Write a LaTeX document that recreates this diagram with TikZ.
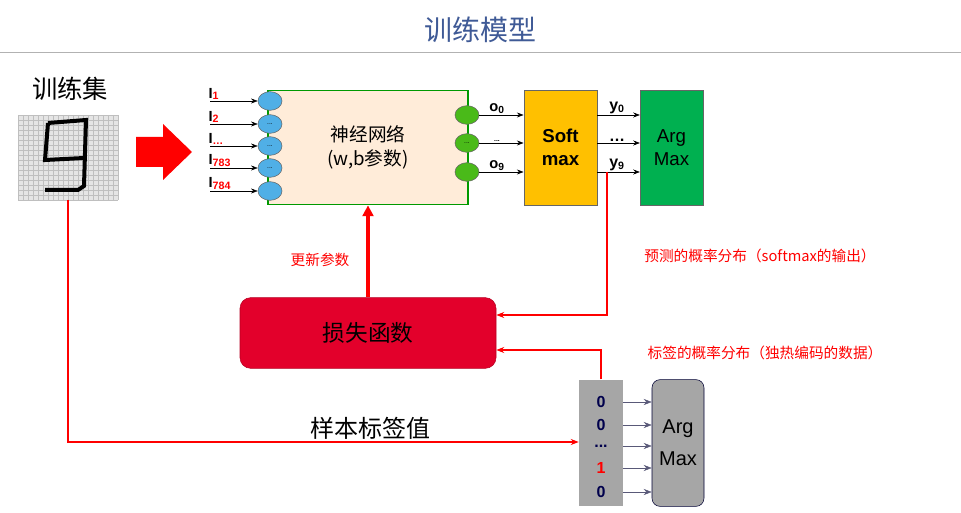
\documentclass[tikz,border=0pt]{standalone}
\usepackage{fontspec}
\setmainfont{Liberation Sans}
\newfontfamily\cjk{Noto Sans CJK SC}
\usetikzlibrary{arrows.meta,shapes.geometric}
\definecolor{sy}{HTML}{FFC000}
\definecolor{ag}{HTML}{00B050}
\definecolor{lr}{HTML}{E3002B}
\definecolor{tb}{HTML}{3F5A96}
\begin{document}
\begin{tikzpicture}[x=0.75pt,y=-0.75pt,
  inc/.style={ellipse,draw=black!60,fill=cyan!80!blue!70,minimum width=18pt,minimum height=14pt,inner sep=0pt,font=\tiny},
  outc/.style={ellipse,draw=black!60,fill=green!60!lime!70!black!90,minimum width=18pt,minimum height=14pt,inner sep=0pt,font=\tiny},
  arr/.style={-{Stealth[length=5pt]},black},
  garr/.style={-{Stealth[length=6pt]},black!60!blue!30!gray},
  rl/.style={red,thick},
  rlab/.style={red,font=\cjk\fontsize{11}{13}\selectfont}]
\useasboundingbox (0,0) rectangle (961,513);
\node[text=tb,font=\cjk\fontsize{21}{24}\selectfont] (title) at (480,30) {训练模型};
\draw[gray!60] (0,52) -- (961,52);
\node[font=\cjk\fontsize{19}{22}\selectfont] (trs) at (70,89) {训练集};
% digit grid
\fill[gray!20] (18,115) rectangle (118,200);
\foreach \i in {0,...,20} {\draw[gray!50,line width=0.4pt] (18+\i*5,115) -- (18+\i*5,200);}
\foreach \j in {0,...,17} {\draw[gray!50,line width=0.4pt] (18,115+\j*5) -- (118,115+\j*5);}
\draw[line width=3pt,line join=miter] (48,123) -- (45,160) -- (84,158);
\draw[line width=3pt] (48,123) -- (86,120) -- (84,186) -- (78,190) -- (45,190);
\coordinate (dig) at (68,200);
% big red arrow
\fill[red] (136,137) -- (163,137) -- (163,124) -- (192,152) -- (163,180) -- (163,167) -- (136,167) -- cycle;
% NN box
\node[draw=green!60!black,thick,fill=orange!15,minimum width=150pt,minimum height=86pt,font=\cjk\fontsize{14}{18}\selectfont,align=center] (nn) at (368,147.5) {神经网络\\(w,b参数)};
\foreach \y/\n/\l [count=\k] in {101/a/1,124/b/2,146/c/\dots,168/d/783,191/e/784} {
  \node[inc] (i\n) at (270,\y) {\ifnum\k>1\ifnum\k<5 ...\fi\fi};
  \coordinate (s\n) at (210,\y);
  \draw[arr] (s\n) -- (i\n);
  \node[anchor=south west,inner sep=1pt,font=\bfseries\fontsize{11}{12}\selectfont] (lab\n) at (207,\y) {I\textcolor{red}{\fontsize{8}{9}\selectfont\raisebox{-1pt}{\l}}};
}
\foreach \y/\n/\l in {115/a/o\textsubscript{0},143/b/{\tiny ...},172/c/o\textsubscript{9}} {
  \node[outc] (o\n) at (467,\y) {};
  \node[anchor=south,font=\bfseries\fontsize{11}{12}\selectfont,inner sep=1pt] (ol\n) at (497,\y) {\l};
}
\node[font=\tiny] at (467,143) {...};
% softmax
\node[draw=black!60,fill=sy,minimum width=55pt,minimum height=86pt,font=\bfseries\fontsize{14}{17}\selectfont,align=center] (sm) at (560.5,147.5) {Soft\\max};
\node[draw=black!60,fill=ag,minimum width=47pt,minimum height=86pt,font=\fontsize{14}{17}\selectfont,align=center] (am) at (671.5,147.5) {Arg\\Max};
\foreach \y/\n in {115/a,143/b,172/c} {\draw[arr] (o\n) -- (sm.west|-0,\y);}
\foreach \y/\l in {115/y\textsubscript{0},143/\dots,172/y\textsubscript{9}} {
  \draw[arr] (sm.east|-0,\y) -- (am.west|-0,\y);
  \node[anchor=south,font=\bfseries\fontsize{12}{13}\selectfont,inner sep=1pt] at (617,\y) {\l};}
% loss
\node[rounded corners=8pt,fill=lr,draw=lr!80!black,minimum width=192pt,minimum height=53pt,font=\cjk\fontsize{17}{20}\selectfont] (loss) at (368,333) {损失函数};
\draw[red,line width=2.5pt,-{Triangle[length=8pt,width=8pt]}] (loss.north) -- (nn.south);
\node[rlab] (upd) at (320,260) {更新参数};
\coordinate (c1) at (607,172);
\draw[rl,-{Stealth[length=6pt]}] (c1) -- (607,315) -- (loss.east|-0,315);
\node[rlab] (pred) at (760,256) {预测的概率分布（softmax的输出）};
% label vector
\node[fill=gray!70,minimum width=33pt,minimum height=95pt] (vec) at (601,443) {};
\draw[rl,-{Stealth[length=6pt]}] (vec.north) -- (601,350) -- (loss.east|-0,350);
\node[rlab] (lab) at (765,353) {标签的概率分布（独热编码的数据）};
\draw[rl,-{Stealth[length=6pt]}] (dig) -- (68,442) -- (vec.west|-0,442);
\node[font=\cjk\fontsize{18}{21}\selectfont] (ybl) at (370,428) {样本标签值};
\node[draw=black!80!blue,fill=gray!70,rounded corners=6pt,minimum width=39pt,minimum height=95pt,font=\fontsize{15}{18}\selectfont,align=center] (am2) at (678,443) {Arg\\[6pt]Max};
\foreach \y/\v in {402/0,425/0,446/{\textbf{...}},468/\textcolor{red}{\rmfamily 1},492/0} {
  \node[font=\fontsize{12}{13}\selectfont\bfseries,text=blue!30!black] at (601,\y) {\v};
  \draw[garr] (623,\y) -- (am2.west|-0,\y);}
\end{tikzpicture}
\end{document}
